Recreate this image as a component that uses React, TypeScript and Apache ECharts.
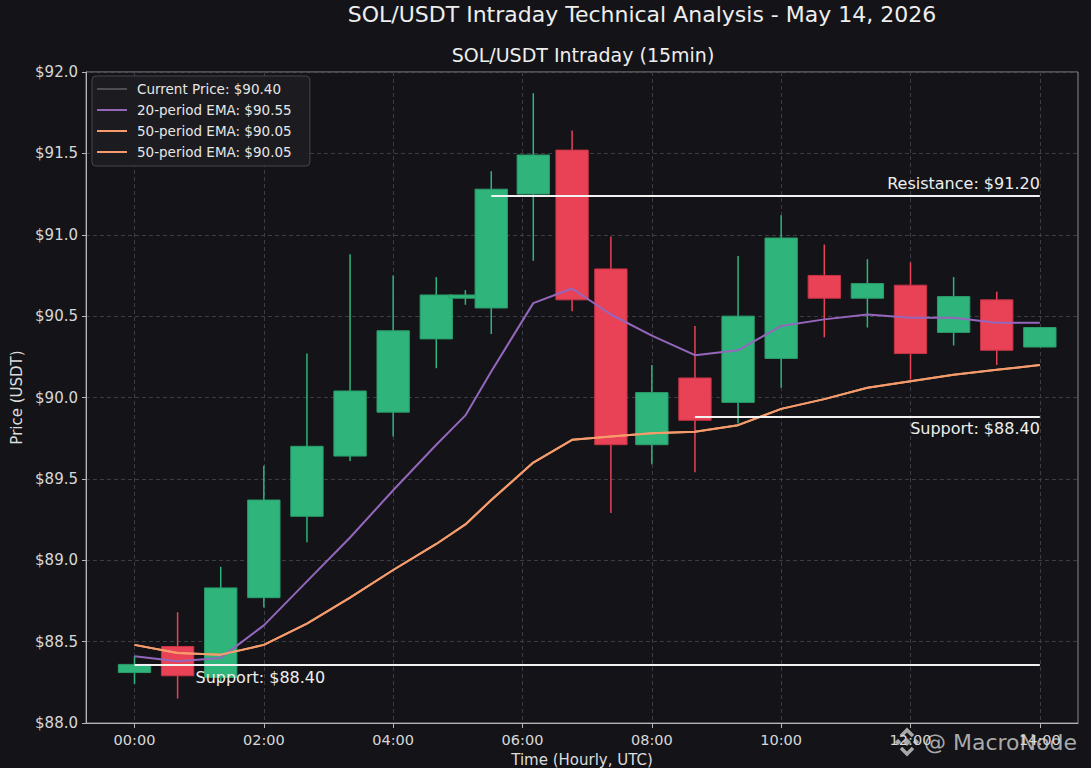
import React, { useEffect, useRef } from "react";
import * as echarts from "echarts";

// ---- data ----
const times = [
  "00:00", "00:40", "01:20", "02:00", "02:40", "03:20", "04:00", "04:40",
  "05:07", "05:31", "06:10", "06:46", "07:22", "08:00", "08:40", "09:20",
  "10:00", "10:40", "11:20", "12:00", "12:40", "13:20", "14:00",
];
const openPrices = [
  88.31, 88.47, 88.28, 88.77, 89.27, 89.64, 89.91, 90.36, 90.61, 90.55, 91.25, 91.52,
  90.79, 89.71, 90.12, 89.97, 90.24, 90.75, 90.61, 90.69, 90.4, 90.6, 90.31,
];
const closePrices = [
  88.36, 88.29, 88.83, 89.37, 89.7, 90.04, 90.41, 90.63, 90.63, 91.28, 91.49, 90.6,
  89.71, 90.03, 89.86, 90.5, 90.98, 90.61, 90.7, 90.27, 90.62, 90.29, 90.43,
];
const lowPrices = [
  88.24, 88.15, 88.25, 88.71, 89.11, 89.61, 89.76, 90.18, 90.57, 90.39, 90.84, 90.53,
  89.29, 89.59, 89.54, 89.84, 90.06, 90.37, 90.43, 90.11, 90.32, 90.2, 90.31,
];
const highPrices = [
  88.41, 88.68, 88.96, 89.58, 90.27, 90.88, 90.75, 90.74, 90.66, 91.39, 91.87, 91.64,
  90.99, 90.2, 90.44, 90.87, 91.12, 90.94, 90.85, 90.83, 90.74, 90.65, 90.43,
];
const ema20 = [
  88.41, 88.38, 88.4, 88.6, 88.87, 89.14, 89.43, 89.71, 89.89, 90.16, 90.58, 90.67,
  90.51, 90.38, 90.26, 90.29, 90.44, 90.48, 90.51, 90.49, 90.49, 90.46, 90.46,
];
const ema50 = [
  88.48, 88.43, 88.42, 88.48, 88.61, 88.77, 88.94, 89.1, 89.22, 89.37, 89.6, 89.74,
  89.76, 89.78, 89.79, 89.83, 89.93, 89.99, 90.06, 90.1, 90.14, 90.17, 90.2,
];
const levelPrices = [91.24, 89.88, 88.36];
const levelStarts = ["05:31", "08:40", "00:00"];
const levelEnd = "14:00";
const levelLabels = ["Resistance: $91.20", "Support: $88.40", "Support: $88.40"];
const xTickLabels = ["00:00", "02:00", "04:00", "06:00", "08:00", "10:00", "12:00", "14:00"];
const yTickStart = 88;
const yTickEnd = 92;
const yTickStep = 0.5;
const legendNames = [
  "Current Price: $90.40",
  "20-period EMA: $90.55",
  "50-period EMA: $90.05",
  "50-period EMA: $90.05 ",
];
const mainTitle = "SOL/USDT Intraday Technical Analysis - May 14, 2026";
const subTitle = "SOL/USDT Intraday (15min)";
const yName = "Price (USDT)";
const xName = "Time (Hourly, UTC)";
const watermark = "@ MacroNode";

// ---- helpers ----
const toH = (s: string) => {
  const [h, m] = s.split(":").map(Number);
  return h + m / 60;
};

const FONT = "'DejaVu Sans', 'Noto Sans', sans-serif";
const BG = "#141418";
const GREEN = "#2fb47c";
const RED = "#e94256";
const PURPLE = "#9467bd";
const ORANGE = "#f59b6c";

export default function App() {
  const ref = useRef<HTMLDivElement>(null);

  useEffect(() => {
    document.body.style.margin = "0";
    document.body.style.background = BG;
    if (!ref.current) return;
    const chart = echarts.init(ref.current, undefined, { renderer: "svg" });

    const candleData = times.map((t, i) => [
      toH(t), openPrices[i], closePrices[i], lowPrices[i], highPrices[i],
    ]);
    const ema20Data = times.map((t, i) => [toH(t), ema20[i]]);
    const ema50Data = times.map((t, i) => [toH(t), ema50[i]]);
    const xTicks = xTickLabels.map(toH);

    const labelPos = ["insideEndTop", "insideEndBottom", "insideStartBottom"];
    const labelDist = [[0, 4], [0, 3], [61, 5]];

    const markData = levelPrices.map((p, i) => [
      {
        coord: [toH(levelStarts[i]), p],
        label: {
          show: true,
          position: labelPos[i],
          distance: labelDist[i],
          formatter: levelLabels[i],
          color: "#eeeeee",
          fontSize: 16,
          fontFamily: FONT,
        },
      },
      { coord: [toH(levelEnd), p] },
    ]);

    const logoC = [907, 742];
    const diamond = (cx: number, cy: number, r: number) => [
      [cx, cy - r], [cx + r, cy], [cx, cy + r], [cx - r, cy],
    ];
    const logoFill = "rgba(205,205,205,0.8)";

    const option: any = {
      animation: false,
      backgroundColor: BG,
      textStyle: { fontFamily: FONT },
      grid: {
        left: 86, right: 13, top: 72, bottom: 45,
        outerBoundsMode: "none",
        containLabel: false,
        show: true, borderColor: "#8a8a8a", borderWidth: 1, backgroundColor: BG,
      },
      legend: {
        orient: "vertical",
        left: 92,
        top: 76,
        data: legendNames,
        icon: "rect",
        itemWidth: 30,
        itemHeight: 2,
        itemGap: 5,
        padding: [5, 14, 6, 5],
        backgroundColor: "rgba(28,28,34,0.92)",
        borderColor: "#45454d",
        borderWidth: 1,
        borderRadius: 4,
        selectedMode: false,
        textStyle: {
          color: "#e6e6e6", fontSize: 13.5, lineHeight: 16, fontFamily: FONT,
          padding: [0, 0, 0, 5],
        },
      },
      xAxis: {
        type: "value",
        min: -0.75,
        max: 14.59,
        name: xName,
        nameLocation: "middle",
        nameGap: 29,
        nameTextStyle: { color: "#dddddd", fontSize: 15, fontFamily: FONT },
        axisLine: { show: true, onZero: false, lineStyle: { color: "#b5b5b5", width: 1 } },
        axisTick: { show: true, length: 5, inside: false, customValues: xTicks, lineStyle: { color: "#b5b5b5" } },
        axisLabel: {
          customValues: xTicks,
          color: "#d8d8d8",
          fontSize: 14.5,
          margin: 9,
          fontFamily: FONT,
          formatter: (v: number) => xTickLabels[xTicks.indexOf(v)] ?? "",
        },
        splitLine: { show: true, lineStyle: { color: "#3c3c44", type: [4, 3], width: 1 } },
      },
      yAxis: {
        type: "value",
        min: yTickStart,
        max: yTickEnd,
        interval: yTickStep,
        name: yName,
        nameLocation: "middle",
        nameGap: 58,
        nameTextStyle: { color: "#dddddd", fontSize: 15, fontFamily: FONT },
        axisLine: { show: true, onZero: false, lineStyle: { color: "#b5b5b5", width: 1 } },
        axisTick: { show: true, length: 4, inside: false, lineStyle: { color: "#b5b5b5" } },
        axisLabel: {
          color: "#d8d8d8",
          fontSize: 15,
          margin: 8,
          fontFamily: FONT,
          formatter: (v: number) => "$" + v.toFixed(1),
        },
        splitLine: { show: true, lineStyle: { color: "#3c3c44", type: [4, 3], width: 1 } },
      },
      series: [
        {
          name: "candles",
          type: "custom",
          data: candleData,
          encode: { x: 0, y: [1, 2, 3, 4] },
          z: 2,
          renderItem: (params: any, api: any) => {
            const t = api.value(0);
            const o = api.value(1);
            const c = api.value(2);
            const l = api.value(3);
            const h = api.value(4);
            const pO = api.coord([t, o]);
            const pC = api.coord([t, c]);
            const pL = api.coord([t, l]);
            const pH = api.coord([t, h]);
            const w = api.size([0.5, 0])[0];
            const up = c >= o;
            const col = up ? GREEN : RED;
            const top = Math.min(pO[1], pC[1]);
            const hgt = Math.max(Math.abs(pO[1] - pC[1]), 1.5);
            return {
              type: "group",
              children: [
                {
                  type: "line",
                  shape: { x1: pH[0], y1: pH[1], x2: pL[0], y2: pL[1] },
                  style: { stroke: col, lineWidth: 1.5 },
                },
                {
                  type: "rect",
                  shape: { x: pO[0] - w / 2, y: top, width: w, height: hgt },
                  style: { fill: col, stroke: up ? "#2a9d6b" : "#c73446", lineWidth: 1 },
                },
              ],
            };
          },
        },
        {
          name: legendNames[0],
          type: "line",
          data: [],
          symbol: "none",
          itemStyle: { color: "#4d4d52" },
          lineStyle: { color: "#4d4d52", width: 2 },
        },
        {
          name: legendNames[1],
          type: "line",
          data: ema20Data,
          symbol: "none",
          z: 3,
          itemStyle: { color: PURPLE },
          lineStyle: { color: PURPLE, width: 2 },
        },
        {
          name: legendNames[2],
          type: "line",
          data: ema50Data,
          symbol: "none",
          z: 3,
          itemStyle: { color: ORANGE },
          lineStyle: { color: ORANGE, width: 2 },
        },
        {
          name: legendNames[3],
          type: "line",
          data: ema50Data,
          symbol: "none",
          z: 3,
          itemStyle: { color: ORANGE },
          lineStyle: { color: ORANGE, width: 2 },
          markLine: {
            silent: true,
            symbol: ["none", "none"],
            animation: false,
            lineStyle: { color: "#f2f2f2", width: 2, type: "solid" },
            emphasis: { disabled: true },
            data: markData,
          },
        },
      ],
      graphic: [
        {
          type: "text",
          x: 642,
          y: 14,
          style: {
            text: mainTitle, fill: "#eeeeee", font: `22px ${FONT}`,
            align: "center", verticalAlign: "middle",
          },
        },
        {
          type: "text",
          x: 583,
          y: 55,
          style: {
            text: subTitle, fill: "#eeeeee", font: `19px ${FONT}`,
            align: "center", verticalAlign: "middle",
          },
        },
        {
          type: "polygon",
          shape: { points: diamond(logoC[0], logoC[1], 4) },
          style: { fill: logoFill },
        },
        {
          type: "polygon",
          shape: { points: diamond(logoC[0] - 9, logoC[1], 3.2) },
          style: { fill: logoFill },
        },
        {
          type: "polygon",
          shape: { points: diamond(logoC[0] + 9, logoC[1], 3.2) },
          style: { fill: logoFill },
        },
        {
          type: "polyline",
          shape: { points: [[logoC[0] - 6, logoC[1] - 6], [logoC[0], logoC[1] - 12], [logoC[0] + 6, logoC[1] - 6]] },
          style: { stroke: logoFill, lineWidth: 3.5, fill: "none" },
        },
        {
          type: "polyline",
          shape: { points: [[logoC[0] - 6, logoC[1] + 6], [logoC[0], logoC[1] + 12], [logoC[0] + 6, logoC[1] + 6]] },
          style: { stroke: logoFill, lineWidth: 3.5, fill: "none" },
        },
        {
          type: "text",
          x: 924,
          y: 742,
          style: {
            text: watermark, fill: "rgba(205,205,205,0.82)", font: `22px ${FONT}`,
            align: "left", verticalAlign: "middle",
          },
        },
      ],
    };

    chart.setOption(option);
    return () => chart.dispose();
  }, []);

  return (
    <div
      ref={ref}
      style={{ position: "fixed", left: 0, top: 0, width: 1091, height: 768, background: BG }}
    />
  );
}
